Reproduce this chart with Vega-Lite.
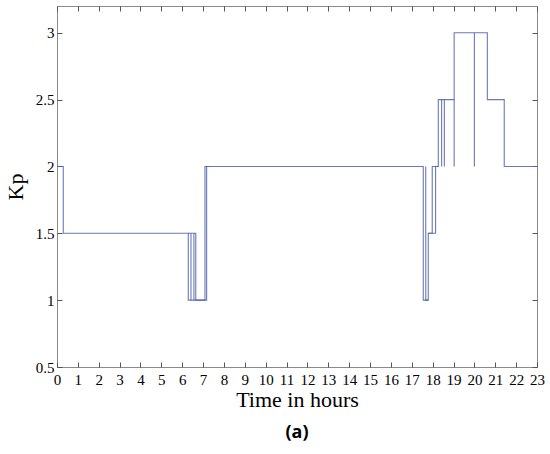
{
  "$schema": "https://vega.github.io/schema/vega-lite/v6.json",
  "width": 480,
  "height": 361,
  "autosize": {"type": "none"},
  "padding": {"left": 57, "top": 6, "right": 13, "bottom": 87},
  "background": "white",
  "config": {
    "view": {"stroke": "#8a8a8a", "strokeWidth": 1},
    "axis": {
      "labelFont": "Liberation Serif",
      "labelFontSize": 15,
      "labelColor": "black",
      "titleFont": "Liberation Serif",
      "titleFontSize": 22,
      "titleFontWeight": "normal",
      "titleColor": "black",
      "domain": false,
      "grid": false,
      "ticks": true,
      "tickColor": "#555555",
      "tickSize": 5,
      "tickWidth": 1,
      "zindex": 2
    }
  },
  "title": {
    "text": "(a)",
    "orient": "bottom",
    "font": "Noto Sans",
    "fontSize": 18,
    "fontWeight": "bold",
    "color": "black",
    "offset": 14
  },
  "data": {
    "values": [
      {"s": 1, "i": 1, "t": 0, "kp": 2},
      {"s": 1, "i": 2, "t": 0.3, "kp": 2},
      {"s": 1, "i": 3, "t": 0.3, "kp": 1.5},
      {"s": 1, "i": 4, "t": 6.29, "kp": 1.5},
      {"s": 1, "i": 5, "t": 6.29, "kp": 1},
      {"s": 1, "i": 6, "t": 7.09, "kp": 1},
      {"s": 1, "i": 7, "t": 7.09, "kp": 2},
      {"s": 1, "i": 8, "t": 17.55, "kp": 2},
      {"s": 1, "i": 9, "t": 17.55, "kp": 1},
      {"s": 1, "i": 10, "t": 17.79, "kp": 1},
      {"s": 1, "i": 11, "t": 17.79, "kp": 1.5},
      {"s": 1, "i": 12, "t": 17.98, "kp": 1.5},
      {"s": 1, "i": 13, "t": 17.98, "kp": 2},
      {"s": 1, "i": 14, "t": 18.27, "kp": 2},
      {"s": 1, "i": 15, "t": 18.27, "kp": 2.5},
      {"s": 1, "i": 16, "t": 19.03, "kp": 2.5},
      {"s": 1, "i": 17, "t": 19.03, "kp": 3},
      {"s": 1, "i": 18, "t": 20.62, "kp": 3},
      {"s": 1, "i": 19, "t": 20.62, "kp": 2.5},
      {"s": 1, "i": 20, "t": 21.43, "kp": 2.5},
      {"s": 1, "i": 21, "t": 21.43, "kp": 2},
      {"s": 1, "i": 22, "t": 23, "kp": 2},
      {"s": 2, "i": 1, "t": 6.42, "kp": 1.5},
      {"s": 2, "i": 2, "t": 6.42, "kp": 1},
      {"s": 3, "i": 1, "t": 6.56, "kp": 1.5},
      {"s": 3, "i": 2, "t": 6.56, "kp": 1},
      {"s": 4, "i": 1, "t": 6.29, "kp": 1.5},
      {"s": 4, "i": 2, "t": 6.65, "kp": 1.5},
      {"s": 4, "i": 3, "t": 6.65, "kp": 1},
      {"s": 4, "i": 4, "t": 7.17, "kp": 1},
      {"s": 4, "i": 5, "t": 7.17, "kp": 2},
      {"s": 4, "i": 6, "t": 7.3, "kp": 2},
      {"s": 5, "i": 1, "t": 17.67, "kp": 2},
      {"s": 5, "i": 2, "t": 17.67, "kp": 1},
      {"s": 5, "i": 3, "t": 17.79, "kp": 1},
      {"s": 6, "i": 1, "t": 17.79, "kp": 1.5},
      {"s": 6, "i": 2, "t": 18.14, "kp": 1.5},
      {"s": 6, "i": 3, "t": 18.14, "kp": 2},
      {"s": 6, "i": 4, "t": 18.27, "kp": 2},
      {"s": 7, "i": 1, "t": 18.43, "kp": 2},
      {"s": 7, "i": 2, "t": 18.43, "kp": 2.5},
      {"s": 8, "i": 1, "t": 18.56, "kp": 2},
      {"s": 8, "i": 2, "t": 18.56, "kp": 2.5},
      {"s": 9, "i": 1, "t": 19.03, "kp": 2},
      {"s": 9, "i": 2, "t": 19.03, "kp": 2.5},
      {"s": 10, "i": 1, "t": 20.0, "kp": 2},
      {"s": 10, "i": 2, "t": 20.0, "kp": 3}
    ]
  },
  "resolve": {"axis": {"x": "independent", "y": "independent"}},
  "layer": [
    {
      "mark": {"type": "line", "stroke": "#4f62aa", "strokeWidth": 1.1, "opacity": 0.85, "interpolate": "linear"},
      "encoding": {
        "x": {
          "field": "t", "type": "quantitative",
          "scale": {"domain": [0, 23], "nice": false, "zero": false},
          "axis": {"orient": "bottom", "offset": -5, "tickCount": 23, "labelPadding": 5, "format": "d", "title": "Time in hours", "titlePadding": 2, "labelFlush": false}
        },
        "y": {
          "field": "kp", "type": "quantitative",
          "scale": {"domain": [0.5, 3.2], "nice": false, "zero": false},
          "axis": {"orient": "left", "offset": -5, "tickCount": 6, "labelPadding": 3, "format": "~g", "title": "Kp", "titlePadding": 8, "labelFlush": false}
        },
        "detail": {"field": "s", "type": "nominal"},
        "order": {"field": "i", "type": "quantitative"}
      }
    },
    {
      "mark": {"type": "line", "strokeOpacity": 0},
      "encoding": {
        "x": {
          "field": "t", "type": "quantitative",
          "axis": {"orient": "top", "offset": -5, "tickCount": 23, "labels": false, "title": null}
        },
        "y": {
          "field": "kp", "type": "quantitative",
          "axis": {"orient": "right", "offset": -5, "tickCount": 6, "labels": false, "title": null}
        },
        "detail": {"field": "s", "type": "nominal"},
        "order": {"field": "i", "type": "quantitative"}
      }
    }
  ]
}
